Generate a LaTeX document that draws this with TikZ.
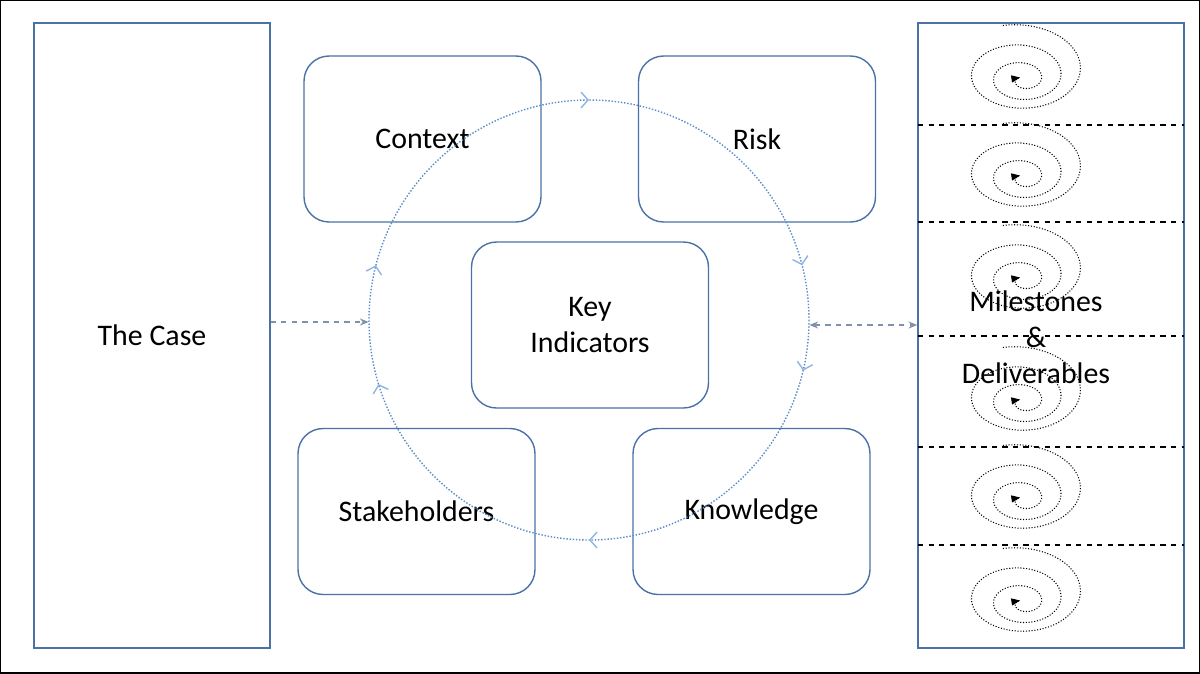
\documentclass[tikz,border=0pt]{standalone}
\usepackage{fontspec}
\setmainfont{Carlito}
\usetikzlibrary{arrows.meta,decorations.markings}
\definecolor{bx}{HTML}{4A72A6}
\definecolor{cc}{HTML}{5B8BC8}
\definecolor{ar}{HTML}{8FB4E3}
\definecolor{cn}{HTML}{7F91AC}
\begin{document}
\begin{tikzpicture}[x=0.02cm,y=-0.02cm,
  txt/.style={font=\fontsize{17}{20.5}\selectfont},
  box/.style={draw=bx,line width=0.8pt,rounded corners=0.5cm,minimum width=4.74cm,minimum height=3.32cm,txt,align=center},
  panel/.style={draw=bx,line width=0.8pt,minimum width=4.72cm,minimum height=12.5cm},
  conn/.style={draw=cn,dashed,line width=0.8pt},
  sp/.style={densely dotted,line width=0.6pt,-{Triangle[length=5pt,width=4pt]}}]
\useasboundingbox (0,0) rectangle (1200,673);
\draw[line width=1.2pt] (0,0) rectangle (1200,673);
\node[panel,txt] (case) at (152,335.5) {The Case};
\node[panel,minimum width=5.32cm] (panel) at (1051,335.5) {};
\foreach \y in {125,222,336,447,545} \draw[dashed,line width=0.7pt] (918,\y) -- (1184,\y);
\node[box] (context) at (422.5,139) {Context};
\node[box] (risk) at (757,139) {Risk};
\node[box] (key) at (590,325) {Key\\Indicators};
\node[box] (stake) at (416.5,511.5) {Stakeholders};
\node[box] (know) at (751.5,511.5) {Knowledge};
\node[circle,minimum size=8.8cm,inner sep=0pt] (circ) at (589,320) {};
\draw[cc,densely dotted,line width=0.8pt,postaction={decorate},
  decoration={markings,
   mark=at position 0.037 with {\arrow[solid,ar]{Straight Barb[length=4pt,width=9pt]}},
   mark=at position 0.25 with {\arrow[solid,ar]{Straight Barb[length=4pt,width=9pt]}},
   mark=at position 0.453 with {\arrow[solid,ar]{Straight Barb[length=4pt,width=9pt]}},
   mark=at position 0.54 with {\arrow[solid,ar]{Straight Barb[length=4pt,width=9pt]}},
   mark=at position 0.75 with {\arrow[solid,ar]{Straight Barb[length=4pt,width=9pt]}},
   mark=at position 0.96 with {\arrow[solid,ar]{Straight Barb[length=4pt,width=9pt]}}}]
  (circ.center) circle (220);
\draw[conn,-{Stealth[length=5pt,width=4pt]}] (case.east |- 0,322) -- (circ.west |- 0,322);
\draw[conn,{Stealth[length=5pt,width=4pt]}-{Stealth[length=5pt,width=4pt]}] (circ.east |- 0,325) -- (panel.west |- 0,325);
\foreach \cy in {78,176,278,400,498,601}
  \draw[sp] plot[domain=0:1,samples=250,smooth] ({1020+66*(1-0.92*\x)*cos(-105+1050*\x)+4*\x},{\cy+44*(1-0.92*\x)*sin(-105+1050*\x)-10*(1-\x)*(1-\x)+2*\x});
\node[txt,align=center] (ms) at (1036,337) {Milestones\\\&\\Deliverables};
\end{tikzpicture}
\end{document}
